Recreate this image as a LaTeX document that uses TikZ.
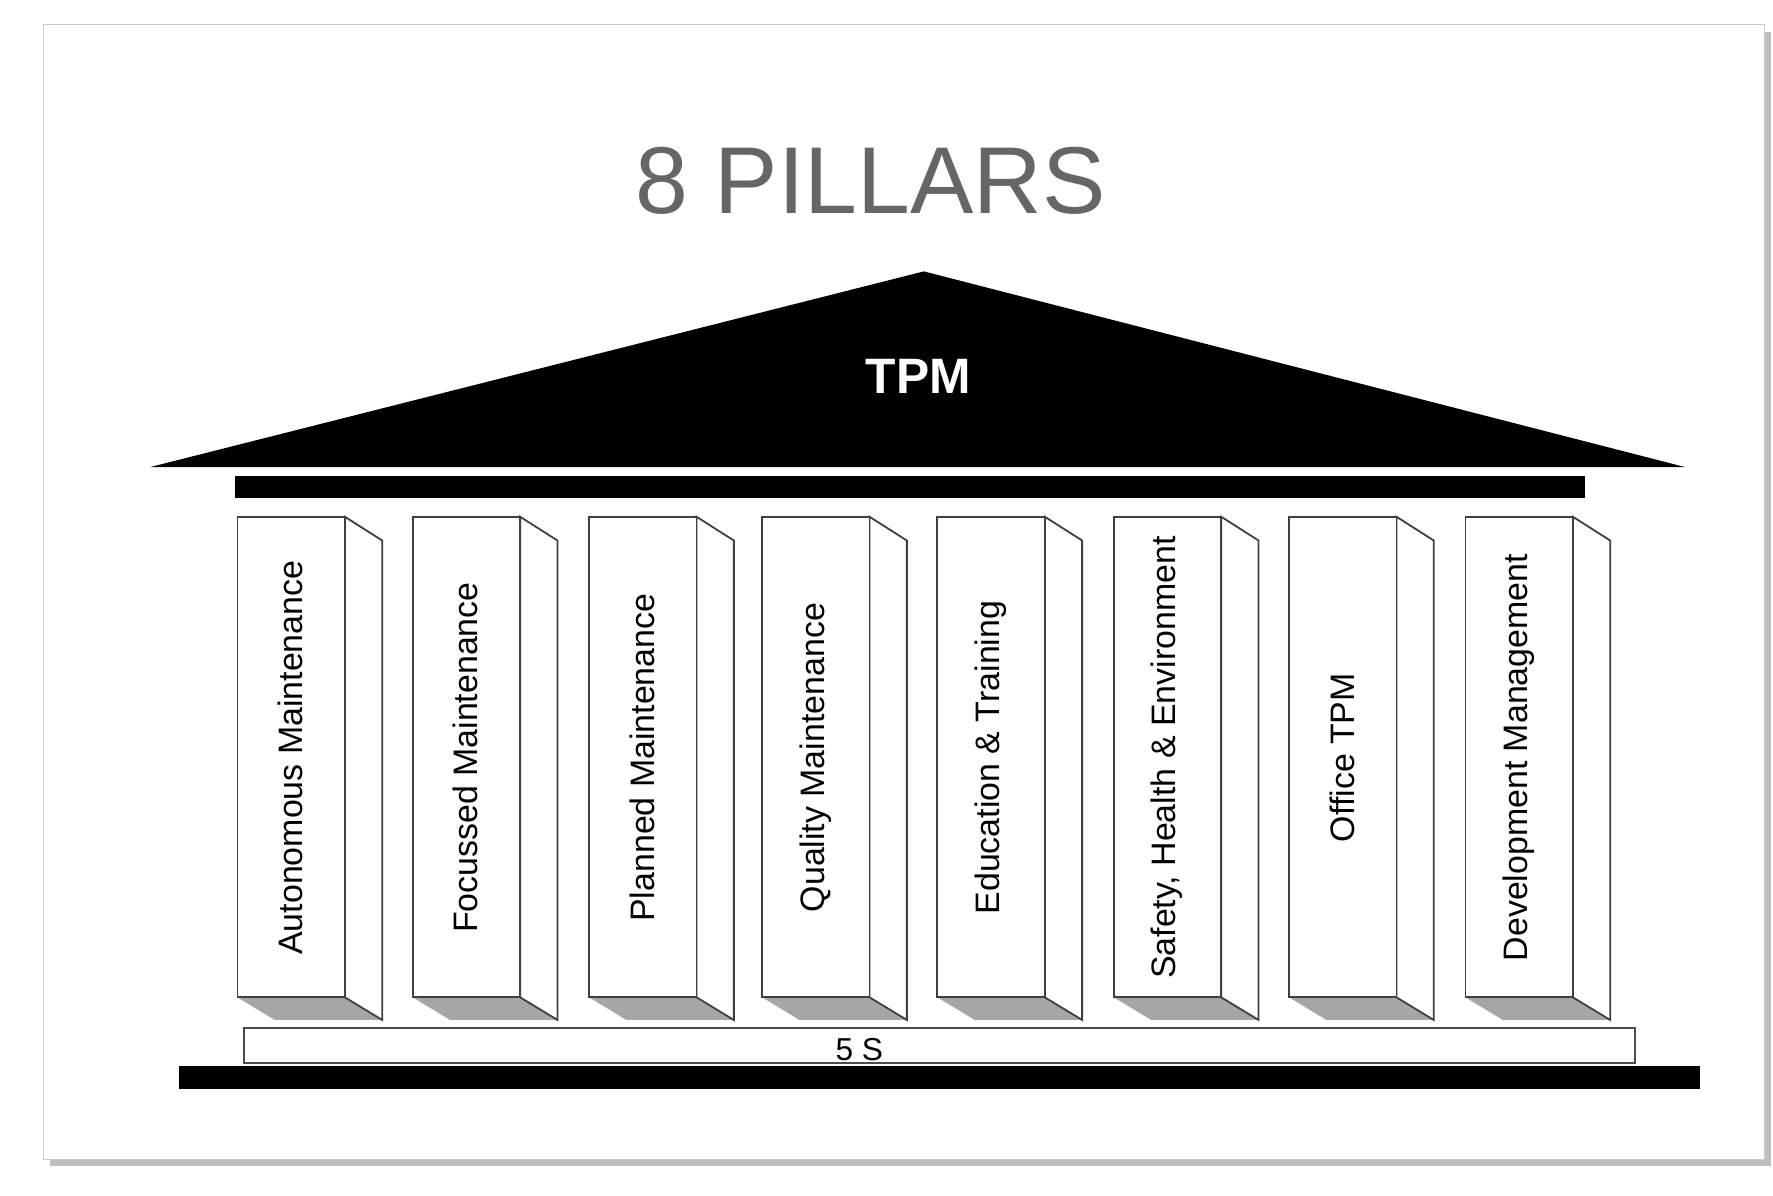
\documentclass[tikz,border=0pt]{standalone}
\usepackage{fontspec}
\setmainfont{Liberation Sans}
\begin{document}
\begin{tikzpicture}[x=0.5pt,y=-0.5pt,
  face/.style={draw=black!75,fill=white,line width=0.8pt},
  shade/.style={fill=black!35,draw=none},
  lbl/.style={rotate=90,font=\fontsize{15}{15}\selectfont,inner sep=0pt}]
\useasboundingbox (0,0) rectangle (1568,1057);
\fill[black!25] (44,28) rectangle (1566,1031);
\fill[white,draw=black!20] (38,22) rectangle (1560,1025);
\node[text=black!60,font=\fontsize{42}{42}\selectfont] (title) at (770,160) {8 PILLARS};
\fill (133,413) -- (817,240) -- (1490,413) -- cycle;
\node[text=white,font=\bfseries\fontsize{22}{22}\selectfont] (tpm) at (812,333) {TPM};
\fill (208,421) rectangle (1402,440);
\foreach \x/\t [count=\i] in {210/Autonomous Maintenance,365/Focussed Maintenance,521/Planned Maintenance,674/Quality Maintenance,829/Education \& Training,985/{Safety, Health \& Environment},1140/Office TPM,1296/Development Management}{
  \fill[shade] (\x,882) -- (\x+95,882) -- (\x+128,902) -- (\x+33,902) -- cycle;
  \draw[face] (\x+95,457) -- (\x+128,478) -- (\x+128,902) -- (\x+95,882) -- cycle;
  \draw[face] (\x,457) rectangle (\x+95,882);
  \node[lbl] (p\i) at (\x+47,670) {\t};
}
\draw[black!70,fill=white,line width=0.8pt] (216,909) rectangle (1446,940);
\node[font=\fontsize{14}{14}\selectfont,inner sep=0pt] (fs) at (760,928) {5 S};
\fill (158,943) rectangle (1503,963);
\end{tikzpicture}
\end{document}
